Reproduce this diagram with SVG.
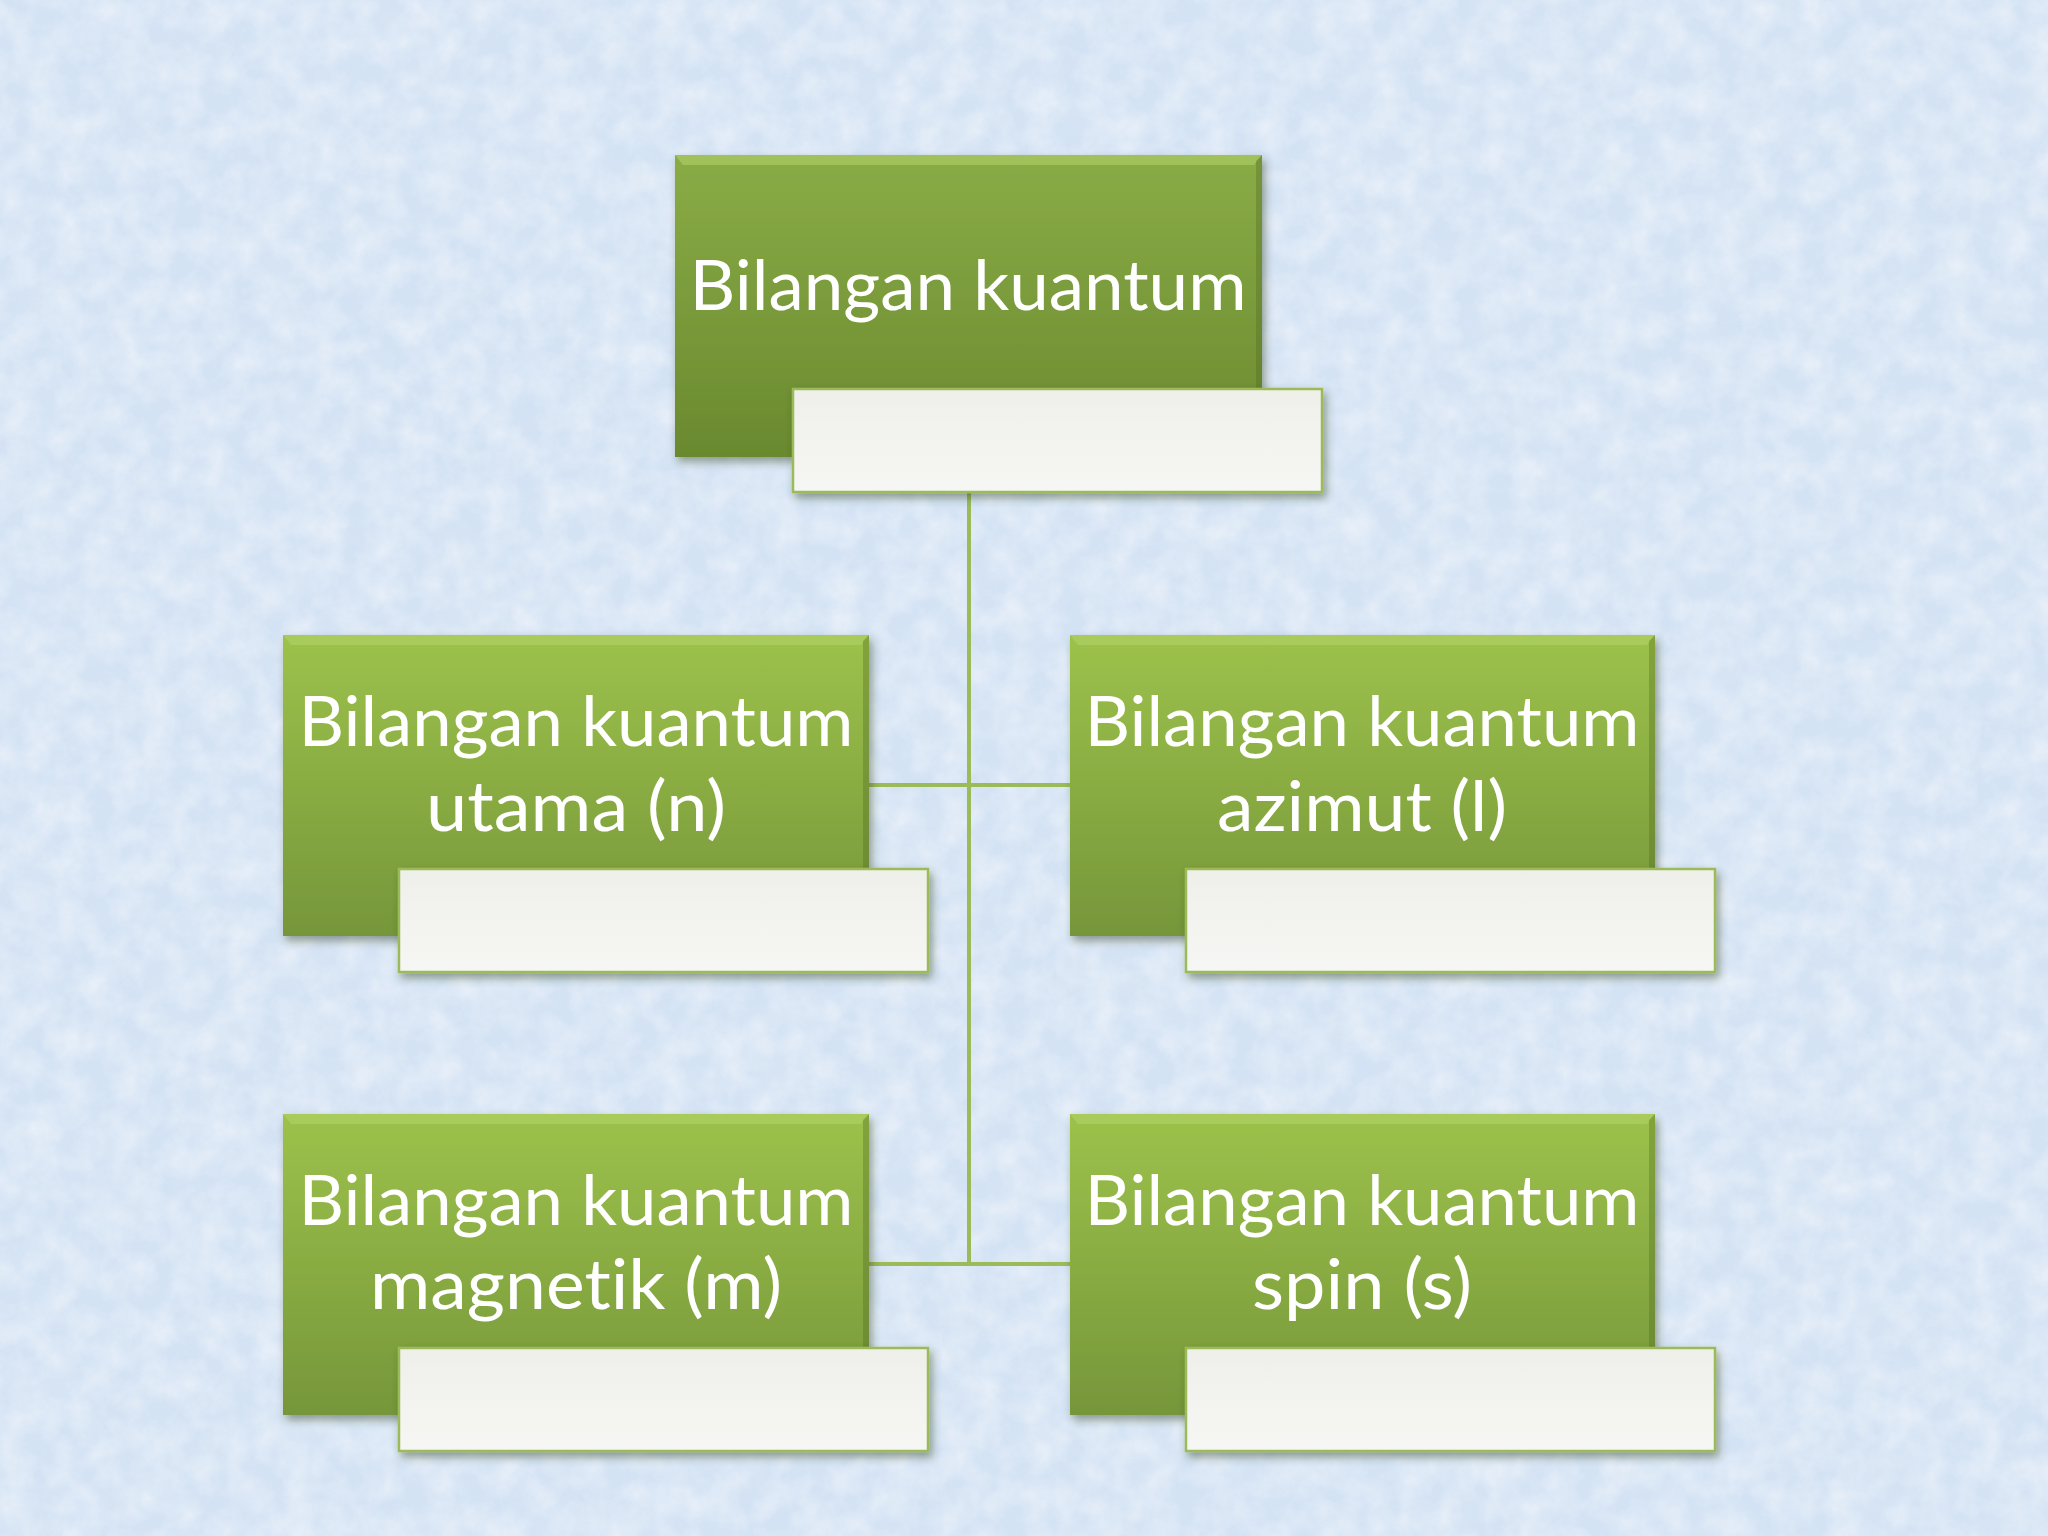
<svg xmlns="http://www.w3.org/2000/svg" width="2048" height="1536" viewBox="0 0 2048 1536">
<defs>
<linearGradient id="gTop" x1="0" y1="0" x2="0" y2="1">
<stop offset="0" stop-color="#8aac46"/>
<stop offset="1" stop-color="#6a892f"/>
</linearGradient>
<linearGradient id="gChild" x1="0" y1="0" x2="0" y2="1">
<stop offset="0" stop-color="#9dc24b"/>
<stop offset="1" stop-color="#76963a"/>
</linearGradient>
<linearGradient id="gLabel" x1="0" y1="0" x2="0" y2="1">
<stop offset="0" stop-color="#efefea"/>
<stop offset="1" stop-color="#f6f6f4"/>
</linearGradient>
<filter id="shadow" x="-10%" y="-10%" width="125%" height="130%">
<feDropShadow dx="3" dy="5" stdDeviation="4" flood-color="#2a3a1a" flood-opacity="0.45"/>
</filter>
<filter id="noise" x="0" y="0" width="100%" height="100%">
<feTurbulence type="fractalNoise" baseFrequency="0.035" numOctaves="4" seed="7" result="t"/>
<feColorMatrix type="matrix" values="0 0 0 0 1  0 0 0 0 1  0 0 0 0 1  0 0 0 -1.6 1.1" in="t"/>
</filter>
<filter id="noise2" x="0" y="0" width="100%" height="100%">
<feTurbulence type="turbulence" baseFrequency="0.012 0.02" numOctaves="3" seed="3" result="t"/>
<feColorMatrix type="matrix" values="0 0 0 0 0.62  0 0 0 0 0.74  0 0 0 0 0.9  0 0 0 -1.2 0.75" in="t"/>
</filter>
</defs>
<style>
.box { filter: url(#shadow); }
.top { fill: url(#gTop); }
.child { fill: url(#gChild); }
.hl { fill: #b3d46b; opacity: 0.55; }
.dk { fill: #4f6a22; opacity: 0.35; }
.label { fill: url(#gLabel); stroke: #9bbb59; stroke-width: 2.5; filter: url(#shadow); }
.t { font-family: Lato, "Open Sans", "Liberation Sans", sans-serif; font-size: 70px; fill: #ffffff; text-anchor: middle; font-variant-ligatures: none; font-feature-settings: "liga" 0, "clig" 0; }
.conn { stroke: #9bbb59; stroke-width: 4; fill: none; }
</style>

<rect x="0" y="0" width="2048" height="1536" fill="#d6e4f4"/>
<rect x="0" y="0" width="2048" height="1536" filter="url(#noise2)" opacity="0.5"/>
<rect x="0" y="0" width="2048" height="1536" filter="url(#noise)" opacity="0.45"/>

<g id="connectors">
<line class="conn" x1="969" y1="492" x2="969" y2="1264"/>
<line class="conn" x1="869" y1="785" x2="1070" y2="785"/>
<line class="conn" x1="869" y1="1264" x2="1070" y2="1264"/>
</g>

<g id="node-root">
<rect class="box top" x="675" y="155" width="587" height="302"/>
<polygon class="hl" points="675,155 1262,155 1254,165 683,165"/>
<polygon class="dk" points="1262,155 1262,457 1256,451 1256,161"/>
<text class="t" x="968" y="310" textLength="557" lengthAdjust="spacingAndGlyphs">Bilangan kuantum</text>
<rect class="label" x="793" y="389" width="529" height="103"/>
</g>

<g id="node-utama">
<rect class="box child" x="283" y="635" width="586" height="301"/>
<polygon class="hl" points="283,635 869,635 861,645 291,645"/>
<polygon class="dk" points="869,635 869,936 863,930 863,641"/>
<text class="t" x="576" y="746" textLength="555" lengthAdjust="spacingAndGlyphs">Bilangan kuantum</text>
<text class="t" x="576" y="831" textLength="300" lengthAdjust="spacingAndGlyphs">utama (n)</text>
<rect class="label" x="399" y="869" width="529" height="103"/>
</g>

<g id="node-azimut">
<rect class="box child" x="1070" y="635" width="585" height="301"/>
<polygon class="hl" points="1070,635 1655,635 1647,645 1078,645"/>
<polygon class="dk" points="1655,635 1655,936 1649,930 1649,641"/>
<text class="t" x="1362" y="746" textLength="555" lengthAdjust="spacingAndGlyphs">Bilangan kuantum</text>
<text class="t" x="1362" y="831" textLength="290" lengthAdjust="spacingAndGlyphs">azimut (l)</text>
<rect class="label" x="1186" y="869" width="529" height="103"/>
</g>

<g id="node-magnetik">
<rect class="box child" x="283" y="1114" width="586" height="301"/>
<polygon class="hl" points="283,1114 869,1114 861,1124 291,1124"/>
<polygon class="dk" points="869,1114 869,1415 863,1409 863,1120"/>
<text class="t" x="576" y="1225" textLength="555" lengthAdjust="spacingAndGlyphs">Bilangan kuantum</text>
<text class="t" x="576" y="1309" textLength="412" lengthAdjust="spacingAndGlyphs">magnetik (m)</text>
<rect class="label" x="399" y="1348" width="529" height="103"/>
</g>

<g id="node-spin">
<rect class="box child" x="1070" y="1114" width="585" height="301"/>
<polygon class="hl" points="1070,1114 1655,1114 1647,1124 1078,1124"/>
<polygon class="dk" points="1655,1114 1655,1415 1649,1409 1649,1120"/>
<text class="t" x="1362" y="1225" textLength="555" lengthAdjust="spacingAndGlyphs">Bilangan kuantum</text>
<text class="t" x="1362" y="1309" textLength="220" lengthAdjust="spacingAndGlyphs">spin (s)</text>
<rect class="label" x="1186" y="1348" width="529" height="103"/>
</g>
</svg>
